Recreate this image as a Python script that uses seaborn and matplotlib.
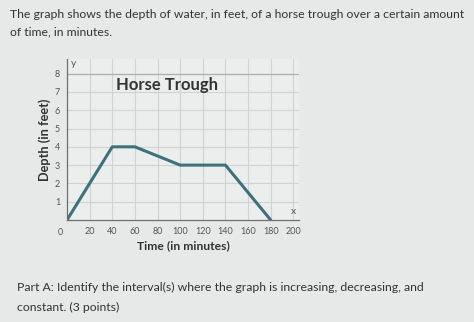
import matplotlib
matplotlib.use("Agg")
import matplotlib.pyplot as plt
import seaborn as sns
import pandas as pd

time_min = [0, 40, 60, 100, 140, 180]
depth_ft = [0, 4, 4, 3, 3, 0]
x_ticks = [20, 40, 60, 80, 100, 120, 140, 160, 180, 200]
y_ticks = [1, 2, 3, 4, 5, 6, 7, 8]

sns.set_theme(style="whitegrid")
plt.rcParams['font.family'] = ['Lato', 'DejaVu Sans']

bg = "#e7e9e8"
fig = plt.figure(figsize=(4.74, 3.22), dpi=100, facecolor=bg)
ax = fig.add_axes([67/474, (322-220)/322, 232/474, 161/322])
ax.set_facecolor("#eceeed")

df = pd.DataFrame({"Time": time_min, "Depth": depth_ft})
sns.lineplot(data=df, x="Time", y="Depth", ax=ax, color="#3e717c", linewidth=2.2)

ax.set_xlim(0, 205)
ax.set_ylim(0, 8.8)
ax.set_xticks(x_ticks)
ax.set_yticks(y_ticks)
ax.grid(True, color="#cfd3d3", linewidth=0.8)
ax.axhline(8, color="#a9b0b1", linewidth=0.9, zorder=1)
ax.tick_params(axis="both", length=0, labelsize=6.5, labelcolor="#555555", pad=5)
for s in ["top", "right"]:
    ax.spines[s].set_visible(False)
for s in ["left", "bottom"]:
    ax.spines[s].set_color("#6a6f70")
    ax.spines[s].set_linewidth(0.9)
ax.set_xlabel("Time (in minutes)", fontsize=8.7, fontweight="bold", color="#333333", labelpad=3)
ax.set_ylabel("Depth (in feet)", fontsize=9.2, fontweight="bold", color="#333333", labelpad=3)
ax.text(-6, -0.45, "0", fontsize=6.5, color="#555555", ha="center", va="top")
ax.text(3, 8.55, "y", fontsize=7.5, color="#555555", ha="left", va="center")
ax.text(198, 0.45, "x", fontsize=7.5, color="#555555", ha="left", va="center")
ax.text(88, 7.4, "Horse Trough", fontsize=12, fontweight="bold", color="#333333", ha="center", va="center")

fig.text(10/474, 1 - 14/322, "The graph shows the depth of water, in feet, of a horse trough over a certain amount",
         fontsize=8.85, color="#333333", ha="left", va="center")
fig.text(10/474, 1 - 32/322, "of time, in minutes.", fontsize=8.85, color="#333333", ha="left", va="center")
fig.text(17/474, 1 - 287/322, "Part A: Identify the interval(s) where the graph is increasing, decreasing, and",
         fontsize=8.8, color="#333333", ha="left", va="center")
fig.text(17/474, 1 - 307/322, "constant. (3 points)", fontsize=8.8, color="#333333", ha="left", va="center")

fig.savefig("out.png", dpi=100, facecolor=bg)
